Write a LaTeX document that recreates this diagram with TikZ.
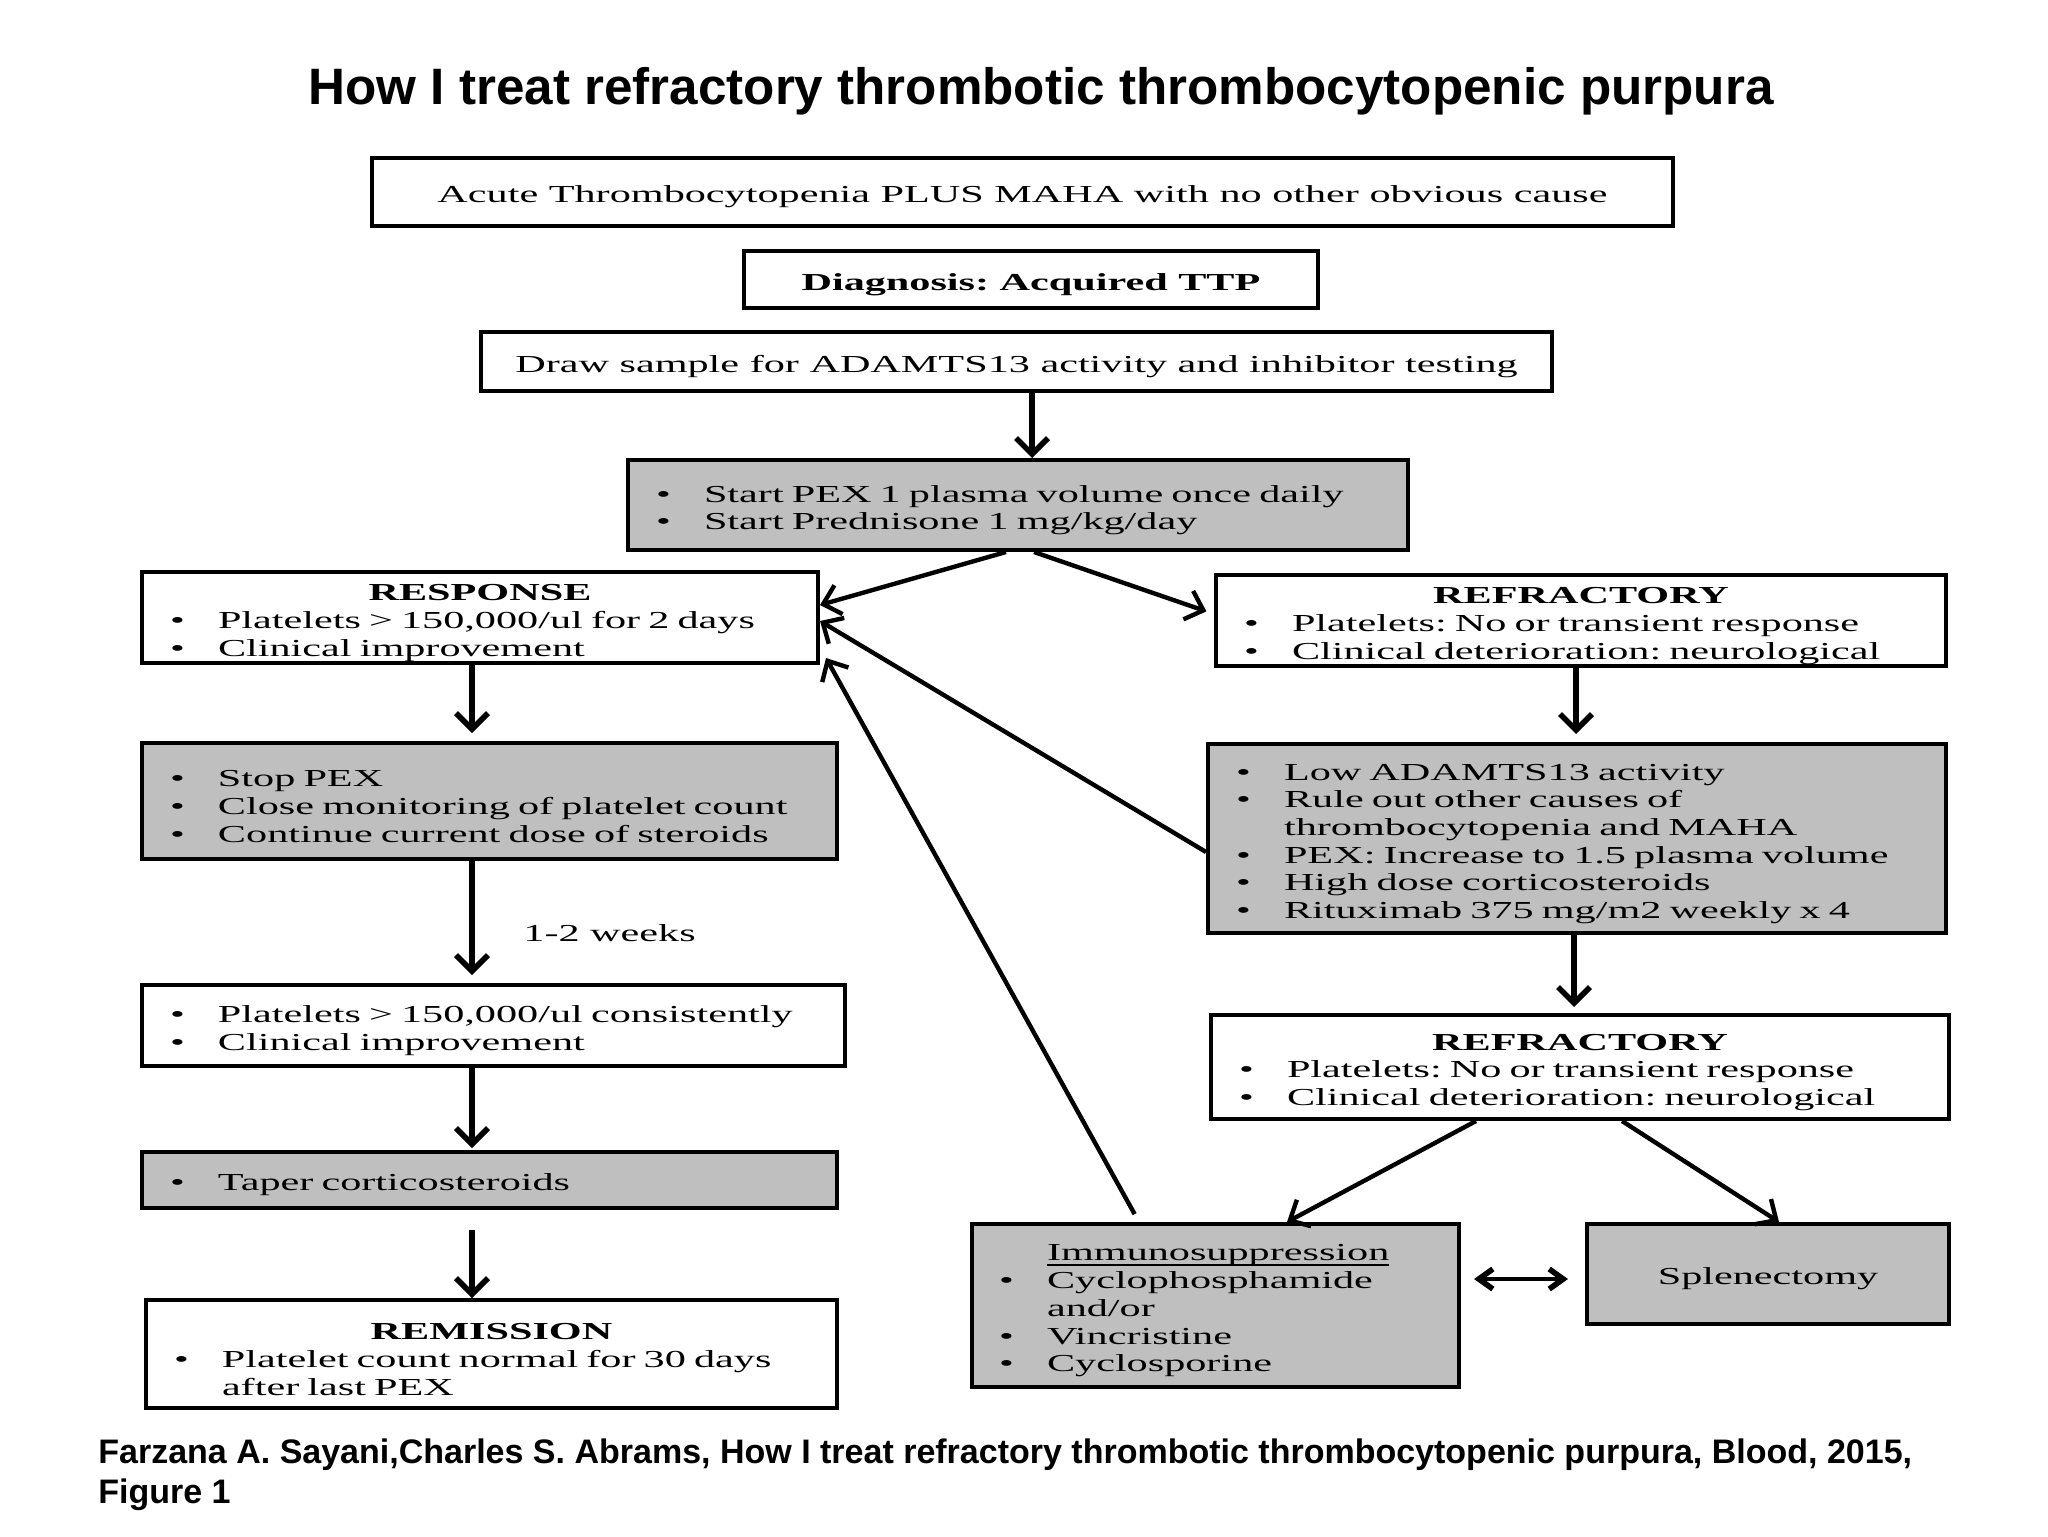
\documentclass[tikz,border=0pt]{standalone}
\usepackage{fontspec}
\setmainfont{Liberation Serif}[FakeStretch=1.73]
\newfontfamily\headfont{Liberation Sans}
\usetikzlibrary{arrows.meta}
\definecolor{boxgray}{RGB}{191,191,191}
\frenchspacing
\newcommand{\bl}[1]{\mbox{\makebox[24pt][l]{\textbullet}#1}}
\newcommand{\cont}[1]{\mbox{\hspace*{24pt}#1}}
\newcommand{\hd}[1]{\makebox[\hsize][c]{\textbf{#1}}}
\newcommand{\ulbar}[1]{\setbox0\hbox{#1}\rlap{\rule[-2.4pt]{\wd0}{0.8pt}}\box0}
\begin{document}
\begin{tikzpicture}[x=0.5pt,y=-0.5pt,
  every node/.style={inner sep=0pt},
  txt/.style={font=\fontsize{12.2}{13.85}\selectfont},
  boxtxt/.style={txt, execute at begin node={\rule{0pt}{13.5pt}}},
  box/.style={draw, line width=2pt, boxtxt, align=left, inner xsep=14pt, inner ysep=0pt},
  cbox/.style={draw, line width=2pt, boxtxt, align=center},
  gbox/.style={fill=boxgray},
  varr/.style={line width=2.8pt, -{Straight Barb[length=8pt,width=16pt]}},
  darr/.style={line width=2.2pt, -{Straight Barb[length=8pt,width=15pt]}},
  dbl/.style={line width=1.8pt, {Straight Barb[length=7pt,width=10pt,line width=2.8pt]}-{Straight Barb[length=7pt,width=10pt,line width=2.8pt]}},
  ttl/.style={font=\headfont\bfseries\fontsize{25.6}{30}\selectfont},
  cite/.style={font=\headfont\bfseries\fontsize{17}{20}\selectfont, anchor=base west},
]
\useasboundingbox (0,0) rectangle (2048,1536);

% title
\node[ttl, anchor=base] (title) at (1041,104.5) {How I treat refractory thrombotic thrombocytopenic purpura};

% top boxes
\node[cbox, minimum width=650.5pt, minimum height=34pt] (b1) at (1022.5,192) {Acute Thrombocytopenia PLUS MAHA with no other obvious cause};
\node[cbox, minimum width=287pt, minimum height=28.5pt] (b2) at (1031,279.5) {\textbf{Diagnosis: Acquired TTP}};
\node[cbox, minimum width=535.5pt, minimum height=29.5pt] (b3) at (1016.5,361.5) {Draw sample for ADAMTS13 activity and inhibitor testing};
\node[box, gbox, text width=362pt, minimum width=390pt, minimum height=45pt] (b4) at (1018,505)
  {\bl{Start PEX 1 plasma volume once daily}\\ \bl{Start Prednisone 1 mg/kg/day}};

% left column
\node[box, text width=310pt, minimum width=338pt, minimum height=45.5pt] (b5) at (480,617.5)
  {\hd{RESPONSE}\\ \bl{Platelets > 150,000/ul for 2 days}\\ \bl{Clinical improvement}};
\node[box, gbox, text width=319.5pt, minimum width=347.5pt, minimum height=58pt] (b7) at (489.5,801)
  {\bl{Stop PEX}\\ \bl{Close monitoring of platelet count}\\ \bl{Continue current dose of steroids}};
\node[txt, anchor=west] (wk) at (523,933) {1-2 weeks};
\node[box, text width=323.5pt, minimum width=351.5pt, minimum height=40.5pt] (b8) at (493.5,1025.5)
  {\bl{Platelets > 150,000/ul consistently}\\ \bl{Clinical improvement}};
\node[box, gbox, text width=319.5pt, minimum width=347.5pt, minimum height=28pt] (b9) at (489.5,1180)
  {\bl{Taper corticosteroids}};
\node[box, text width=317.5pt, minimum width=345.5pt, minimum height=54pt] (b10) at (491.5,1354)
  {\hd{REMISSION}\\ \bl{Platelet count normal for 30 days}\\ \cont{after last PEX}};

% right column
\node[box, text width=337pt, minimum width=365pt, minimum height=45.5pt] (b6) at (1581,620.5)
  {\hd{REFRACTORY}\\ \bl{Platelets: No or transient response}\\ \bl{Clinical deterioration: neurological}};
\node[box, gbox, text width=341pt, minimum width=369pt, minimum height=94.5pt] (b11) at (1577,838.5)
  {\bl{Low ADAMTS13 activity}\\ \bl{Rule out other causes of}\\ \cont{thrombocytopenia and MAHA}\\ \bl{PEX: Increase to 1.5 plasma volume}\\ \bl{High dose corticosteroids}\\ \bl{Rituximab 375 mg/m2 weekly x 4}};
\node[box, text width=341pt, minimum width=369pt, minimum height=52pt] (b12) at (1580,1067)
  {\hd{REFRACTORY}\\ \bl{Platelets: No or transient response}\\ \bl{Clinical deterioration: neurological}};
\node[box, gbox, inner xsep=13.5pt, text width=216.5pt, minimum width=243.5pt, minimum height=81.5pt] (b13) at (1215.5,1305.5)
  {\cont{\ulbar{Immunosuppression}}\\ \bl{Cyclophosphamide}\\ \cont{and/or}\\ \bl{Vincristine}\\ \bl{Cyclosporine}};
\node[cbox, gbox, minimum width=181pt, minimum height=50pt] (b14) at (1768,1274) {Splenectomy};

% helper coordinates
\coordinate (xA1) at (1032,0);
\coordinate (xA2) at (1006,0);
\coordinate (yA2) at (0,605);
\coordinate (xA3) at (1034,0);
\coordinate (yA3) at (0,614);
\coordinate (yA4s) at (0,852);
\coordinate (yA4e) at (0,621);
\coordinate (xA5) at (1139,0);
\coordinate (xL) at (472,0);
\coordinate (xR1) at (1576,0);
\coordinate (xR2) at (1574,0);
\coordinate (xA12s) at (1476,0);
\coordinate (xA12e) at (1287,0);
\coordinate (xA13s) at (1622,0);
\coordinate (xA13e) at (1779,0);
\coordinate (yD) at (0,1279);

% connectors
\draw[varr] (b3.south -| xA1) -- (b4.north -| xA1);
\draw[darr] (b4.south -| xA2) -- (b5.east |- yA2);
\draw[darr, shorten >=4pt] (b4.south -| xA3) -- (b6.west |- yA3);
\draw[darr] (b11.west |- yA4s) -- (b5.east |- yA4e);
\draw[darr, shorten <=4.5pt] (b13.north -| xA5) -- ([xshift=3pt,yshift=3.5pt]b5.south east);
\draw[varr, shorten >=4pt] (b5.south -| xL) -- (b7.north -| xL);
\draw[varr, shorten >=4pt] (b7.south -| xL) -- (b8.north -| xL);
\draw[varr, shorten >=1pt] (b8.south -| xL) -- (b9.north -| xL);
\draw[varr, shorten <=10pt] (b9.south -| xL) -- (b10.north -| xL);
\draw[varr, shorten >=4pt] (b6.south -| xR1) -- (b11.north -| xR1);
\draw[varr, shorten >=3pt] (b11.south -| xR2) -- (b12.north -| xR2);
\draw[darr] (b12.south -| xA12s) -- (b13.north -| xA12e);
\draw[darr] (b12.south -| xA13s) -- (b14.north -| xA13e);
\draw[dbl, shorten <=6.5pt, shorten >=8.5pt] (b13.east |- yD) -- (b14.west |- yD);

% citation
\node[cite] (cite1) at (98,1463) {Farzana A. Sayani,Charles S. Abrams, How I treat refractory thrombotic thrombocytopenic purpura, Blood, 2015,};
\node[cite] (cite2) at (98,1503) {Figure 1};
\end{tikzpicture}
\end{document}
